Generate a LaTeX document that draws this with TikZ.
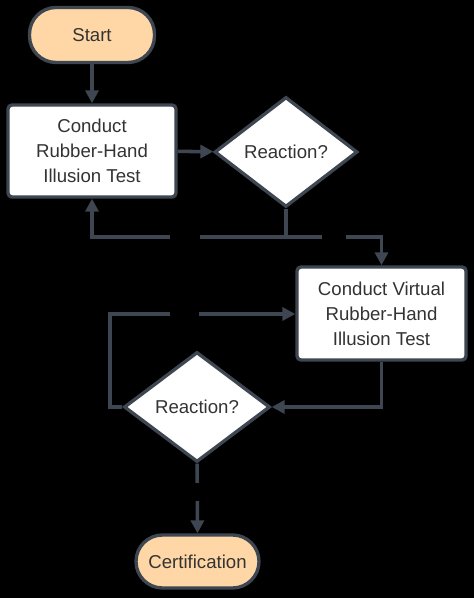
\documentclass[tikz,border=0pt]{standalone}
\usepackage{fontspec}
\setmainfont{Liberation Sans}
\definecolor{slate}{HTML}{3E4651}
\definecolor{peach}{HTML}{FFD7A6}
\definecolor{inkgray}{HTML}{333333}
\usetikzlibrary{shapes.geometric,arrows.meta,positioning,calc}

\begin{document}
\begin{tikzpicture}[
    terminal/.style={rectangle, rounded corners=0.53cm, draw=slate, line width=1.9pt, fill=peach,
                minimum width=2.5cm, minimum height=1.1cm, align=center, text=inkgray,
                font=\fontsize{10.6}{14.2}\selectfont},
    task/.style={rectangle, rounded corners=0.08cm, draw=slate, line width=1.9pt, fill=white,
                minimum width=3.36cm, minimum height=1.84cm, align=center, text=inkgray,
                font=\fontsize{10.6}{14.2}\selectfont},
    decide/.style={diamond, aspect=1.29, inner sep=0pt, draw=slate, line width=1.9pt, fill=white,
                minimum width=2.86cm, minimum height=2.2cm, align=center, text=inkgray,
                font=\fontsize{10.6}{14.2}\selectfont},
    flow/.style={draw=slate, line width=2pt, -{Triangle[length=0.26cm, width=0.26cm]}},
    hgap/.style={fill=black, inner sep=0pt, minimum width=0.6cm, minimum height=0.2cm},
    vgap/.style={fill=black, inner sep=0pt, minimum width=0.2cm, minimum height=0.36cm}
]
    \fill[black] (0,0) rectangle (9.48,11.96);
    \useasboundingbox (0,0) rectangle (9.48,11.96);

    \node[terminal] (start) at (1.84,11.26) {Start};
    \node[task] (rht) at (1.84,8.94) {Conduct\\Rubber-Hand\\Illusion Test};
    \node[decide] (react1) at (5.72,8.92) {Reaction?};
    \node[task, minimum width=3.38cm, minimum height=1.86cm] (vrht) at (7.63,5.69)
        {Conduct Virtual\\Rubber-Hand\\Illusion Test};
    \node[decide, minimum width=2.92cm] (react2) at (3.94,3.82) {Reaction?};
    \node[terminal, minimum width=2.46cm, minimum height=1.06cm] (cert) at (3.95,0.73) {Certification};

    \coordinate (split) at (5.72,7.22);
    \coordinate (loop) at (2.2,5.68);

    \draw[flow] (start) -- (rht);
    \draw[flow] (rht) -- (react1);
    \draw[flow] (react1.south) -- (split) -- node[hgap, pos=0.52]{} (rht.south |- split) -- (rht.south);
    \draw[flow] (split) -- node[hgap, pos=0.505, minimum width=0.48cm]{} (vrht.north |- split) -- (vrht.north);
    \draw[flow] (vrht.south) -- (vrht.south |- react2) -- (react2.east);
    \draw[flow] (react2.west) -- (loop |- react2) -- (loop) -- node[hgap, pos=0.40, minimum width=0.58cm]{} (vrht.west |- loop);
    \draw[flow] (react2.south) -- node[vgap, pos=0.40]{} (cert.north);
\end{tikzpicture}
\end{document}
